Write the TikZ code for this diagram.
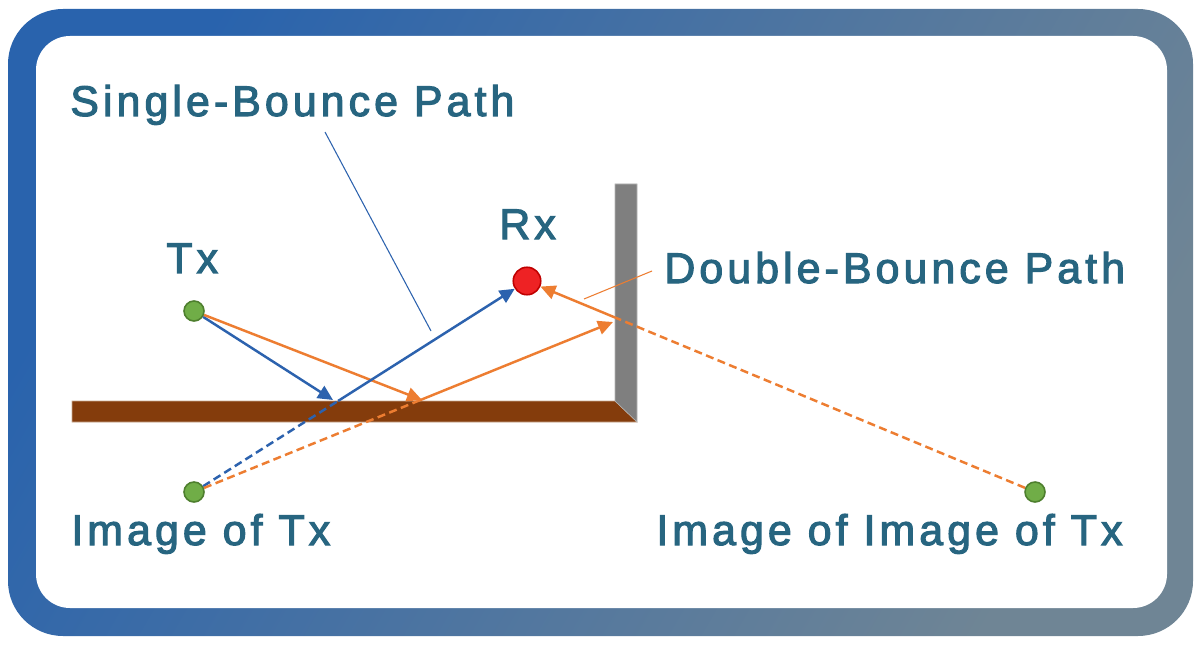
\documentclass[tikz,border=0pt]{standalone}
\usepackage{fontspec}
\usetikzlibrary{arrows.meta}
\newfontfamily\lblfam{Liberation Sans}[FakeBold=2.6,LetterSpace=9.5]
\definecolor{txtc}{HTML}{276580}
\definecolor{rayb}{HTML}{2C62AE}
\definecolor{rayo}{HTML}{ED7D31}
\definecolor{dotg}{HTML}{70AD47}
\definecolor{dotgd}{HTML}{4E7F2E}
\definecolor{rxr}{HTML}{EE2224}
\definecolor{rxd}{HTML}{C00000}
\definecolor{floorc}{HTML}{843C0C}
\definecolor{floorl}{HTML}{C9A98F}
\definecolor{wallc}{HTML}{7F7F7F}
\definecolor{walll}{HTML}{B5B5B5}
\definecolor{frA}{HTML}{2963AD}
\definecolor{frB}{HTML}{6F8595}
\begin{document}
\begin{tikzpicture}[x=0.02cm,y=-0.02cm,
  lbl/.style={anchor=base west, inner sep=0pt, text=txtc, font=\lblfam\fontsize{24.4}{28}\selectfont},
  dot/.style={circle, fill=dotg, draw=dotgd, line width=0.9pt, minimum size=0.4cm, inner sep=0pt},
  rxdot/.style={circle, fill=rxr, draw=rxd, line width=0.9pt, minimum size=0.55cm, inner sep=0pt},
  ray/.style={line width=1.4pt},
  tip/.style={-{Triangle[length=0.3cm,width=0.28cm]}},
  dsh/.style={dash pattern=on 0.16cm off 0.09cm},
  lead/.style={line width=0.6pt}]
\useasboundingbox (0,0) rectangle (1200,645);
% frame
\shade[rounded corners=1.1cm, top color=frA, bottom color=frB, shading angle=60] (8,9) rectangle (1193,636);
\fill[white, rounded corners=0.68cm] (36,36) rectangle (1167,608);
% floor and wall
\fill[floorc, draw=floorl, line width=0.3pt] (72,401) -- (615,401) -- (637,422) -- (72,422) -- cycle;
\fill[wallc, draw=walll, line width=0.3pt] (615,184) -- (637,184) -- (637,422) -- (615,401) -- cycle;
% labels
\node[lbl] (lsb) at (70,116) {Single-Bounce Path};
\node[lbl] (ltx) at (166,273) {Tx};
\node[lbl] (lrx) at (499,239) {Rx};
\node[lbl] (ldb) at (664,283) {Double-Bounce Path};
\node[lbl] (litx) at (71,545) {Image of Tx};
\node[lbl] (liitx) at (656,545) {Image of Image of Tx};
% points
\node[dot] (tx) at (194,311) {};
\node[dot] (itx) at (194,492) {};
\node[dot] (iitx) at (1035,492) {};
\node[rxdot] (rx) at (527,281) {};
% helper coordinates
\coordinate (fb) at (333,400);
\coordinate (fo) at (422,400);
\coordinate (cb) at (338,401);
\coordinate (co) at (418,401);
\coordinate (wo) at (613,322);
\coordinate (ws) at (615,317.5);
\coordinate (l1a) at (325,132);
\coordinate (l1b) at (431,331);
\coordinate (l2a) at (584,299);
\coordinate (l2b) at (652,271);
% rays
\draw[ray, rayb, tip] (tx) -- (fb);
\draw[ray, rayo, tip] (tx) -- (fo);
\draw[ray, rayb, dsh] (itx) -- (cb);
\draw[ray, rayb, tip] (cb) -- (rx);
\draw[ray, rayo, dsh] (itx) -- (co);
\draw[ray, rayo, tip] (co) -- (wo);
\draw[ray, rayo, dsh] (iitx) -- (ws);
\draw[ray, rayo, tip] (ws) -- (rx);
% leaders
\draw[lead, rayb] (l1a) -- (l1b);
\draw[lead, rayo] (l2a) -- (l2b);
\end{tikzpicture}
\end{document}
